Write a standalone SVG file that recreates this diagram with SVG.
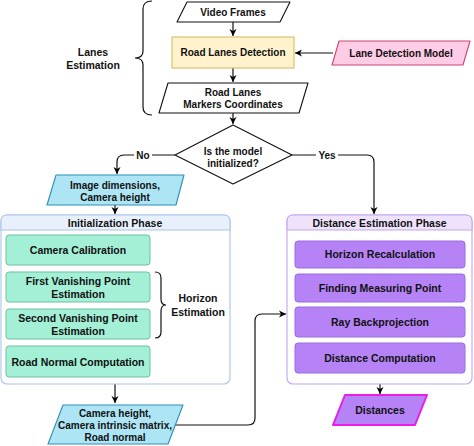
<svg xmlns="http://www.w3.org/2000/svg" width="474" height="446" viewBox="0 0 474 446">
<defs>
<marker id="arr" markerWidth="8" markerHeight="8" refX="7" refY="4" orient="auto" markerUnits="userSpaceOnUse"><path d="M0,0.5 L7,4 L0,7.5 L2,4 Z" fill="#000"/></marker>
<marker id="sm" markerWidth="4" markerHeight="4" refX="3.5" refY="2" orient="auto" markerUnits="userSpaceOnUse"><path d="M0,0 L3.5,2 L0,4 Z" fill="#000"/></marker>
<style>
text{font-family:"Liberation Sans",Arial,sans-serif;font-weight:bold;fill:#111;text-anchor:middle}
.t10{font-size:10px}
.t105{font-size:10.5px}
.line{fill:none;stroke:#111;stroke-width:1.2}
.thin{fill:none;stroke:#222;stroke-width:0.8}
.wh{fill:#fff;stroke:#111;stroke-width:1.1;stroke-linejoin:round}
.mint{fill:#a3f0d7;stroke:#6fbfa6;stroke-width:1}
.purp{fill:#b583f6;stroke:#9c6ce0;stroke-width:1}
.cyan{fill:#ade5f5;stroke:#2c8fb8;stroke-width:1.1;stroke-linejoin:round}
</style>
</defs>
<g id="connectors">
<path class="line" d="M233,22 L233,36" marker-end="url(#arr)"/>
<path class="line" d="M233,68 L233,82" marker-end="url(#arr)"/>
<path class="line" d="M233,113 L233,124" marker-end="url(#arr)"/>
<path class="line" d="M333,53 L295,53" marker-end="url(#arr)"/>
<path class="line" d="M175,155 L124,155 Q117,155 117,162 L117,174" marker-end="url(#arr)"/>
<rect x="134" y="148" width="18" height="13" fill="#fff"/>
<text class="t10" x="143" y="159">No</text>
<path class="line" d="M292,155 L367,155 Q374,155 374,162 L374,214" marker-end="url(#arr)"/>
<rect x="316" y="148" width="22" height="13" fill="#fff"/>
<text class="t10" x="327" y="159">Yes</text>
<path class="line" d="M115,205 L115,214" marker-end="url(#arr)"/>
<path class="line" d="M115,384 L115,403" marker-end="url(#arr)"/>
<path class="line" d="M174,425 L248,425 Q255,425 255,418 L255,321 Q255,314 262,314 L286,314" marker-end="url(#arr)"/>
<path class="line" d="M380,384 L380,394" marker-end="url(#arr)"/>
<path class="thin" d="M78,265 L78,271.5" marker-end="url(#sm)"/>
<path class="thin" d="M78,302 L78,308.5" marker-end="url(#sm)"/>
<path class="thin" d="M78,339 L78,345.5" marker-end="url(#sm)"/>
<path class="thin" d="M380,268 L380,273.5" marker-end="url(#sm)"/>
<path class="thin" d="M380,302 L380,306.5" marker-end="url(#sm)"/>
<path class="thin" d="M380,337 L380,342.5" marker-end="url(#sm)"/>
</g>
<g id="lanes-brace">
<path class="line" d="M152,1 Q143,1 143,9 L143,51 Q143,58 135,58 Q143,58 143,65 L143,107 Q143,115 152,115"/>
<text class="t105" x="93" y="56">Lanes</text>
<text class="t105" x="93" y="69">Estimation</text>
</g>
<g id="video-frames">
<polygon class="wh" points="187,2 290,2 280,22 177,22"/>
<text class="t10" x="233" y="16">Video Frames</text>
</g>
<g id="road-lanes-detection">
<rect x="172" y="37" width="122" height="31" fill="#fff2cc" stroke="#d6b656" stroke-width="1"/>
<text class="t10" x="233" y="56">Road Lanes Detection</text>
</g>
<g id="lane-detection-model">
<polygon points="339,41 470,41 463,65 332,65" fill="#ffcce6" stroke="#cc4477" stroke-width="1.1" stroke-linejoin="round"/>
<text class="t10" x="401" y="57">Lane Detection Model</text>
</g>
<g id="road-lanes-markers">
<polygon class="wh" points="168,83 308,83 299,113 159,113"/>
<text class="t10" x="233" y="96">Road Lanes</text>
<text class="t10" x="233" y="108">Markers Coordinates</text>
</g>
<g id="decision">
<polygon class="wh" points="233,125 292,155 233,184 175,155"/>
<text class="t10" x="233" y="155">Is the model</text>
<text class="t10" x="233" y="167">initialized?</text>
</g>
<g id="image-dimensions">
<polygon class="cyan" points="56,175 184,175 176,205 47,205"/>
<text class="t10" x="115" y="189">Image dimensions,</text>
<text class="t10" x="115" y="201">Camera height</text>
</g>
<g id="initialization-phase">
<rect x="1" y="215" width="229" height="169" rx="6" fill="#fff" stroke="#a9c4eb" stroke-width="1.1"/>
<path d="M1,230 L1,221 Q1,215 7,215 L224,215 Q230,215 230,221 L230,230 Z" fill="#e8f1fb" stroke="#a9c4eb" stroke-width="1.1"/>
<text class="t105" x="115" y="226.5">Initialization Phase</text>
</g>
<g id="camera-calibration">
<rect class="mint" x="6" y="235" width="144" height="30" rx="3"/>
<text class="t105" x="78" y="254">Camera Calibration</text>
</g>
<g id="first-vp">
<rect class="mint" x="6" y="272" width="144" height="30" rx="3"/>
<text class="t105" x="78" y="285">First Vanishing Point</text>
<text class="t105" x="78" y="298">Estimation</text>
</g>
<g id="second-vp">
<rect class="mint" x="6" y="309" width="144" height="30" rx="3"/>
<text class="t105" x="78" y="322">Second Vanishing Point</text>
<text class="t105" x="78" y="335">Estimation</text>
</g>
<g id="road-normal">
<rect class="mint" x="6" y="346" width="144" height="31" rx="3"/>
<text class="t105" x="78" y="365.5">Road Normal Computation</text>
</g>
<g id="horizon-brace">
<path class="line" d="M155,272 Q161,272 161,278 L161,299 Q161,305 166,305 Q161,305 161,311 L161,332 Q161,338 155,338"/>
<text class="t105" x="198" y="302">Horizon</text>
<text class="t105" x="198" y="316">Estimation</text>
</g>
<g id="camera-params">
<polygon class="cyan" points="63,405 183,405 168,444 48,444"/>
<text class="t10" x="115" y="417">Camera height,</text>
<text class="t10" x="115" y="429">Camera intrinsic matrix,</text>
<text class="t10" x="115" y="441">Road normal</text>
</g>
<g id="distance-estimation-phase">
<rect x="287" y="215" width="185" height="169" rx="6" fill="#fff" stroke="#c3a5ef" stroke-width="1.1"/>
<path d="M287,230 L287,221 Q287,215 293,215 L466,215 Q472,215 472,221 L472,230 Z" fill="#efe3fc" stroke="#c3a5ef" stroke-width="1.1"/>
<text class="t105" x="379.5" y="226.5">Distance Estimation Phase</text>
</g>
<g id="horizon-recalculation">
<rect class="purp" x="295" y="241" width="170" height="27" rx="3"/>
<text class="t105" x="380" y="258">Horizon Recalculation</text>
</g>
<g id="finding-measuring-point">
<rect class="purp" x="295" y="274" width="170" height="28" rx="3"/>
<text class="t105" x="380" y="291.5">Finding Measuring Point</text>
</g>
<g id="ray-backprojection">
<rect class="purp" x="295" y="307" width="170" height="30" rx="3"/>
<text class="t105" x="380" y="325.5">Ray Backprojection</text>
</g>
<g id="distance-computation">
<rect class="purp" x="295" y="343" width="170" height="30" rx="3"/>
<text class="t105" x="380" y="361.5">Distance Computation</text>
</g>
<g id="distances">
<polygon points="345,395 427,395 415,425 333,425" fill="#b583f6" stroke="#e81ee8" stroke-width="2" stroke-linejoin="round"/>
<text class="t105" x="380" y="414">Distances</text>
</g>
</svg>
